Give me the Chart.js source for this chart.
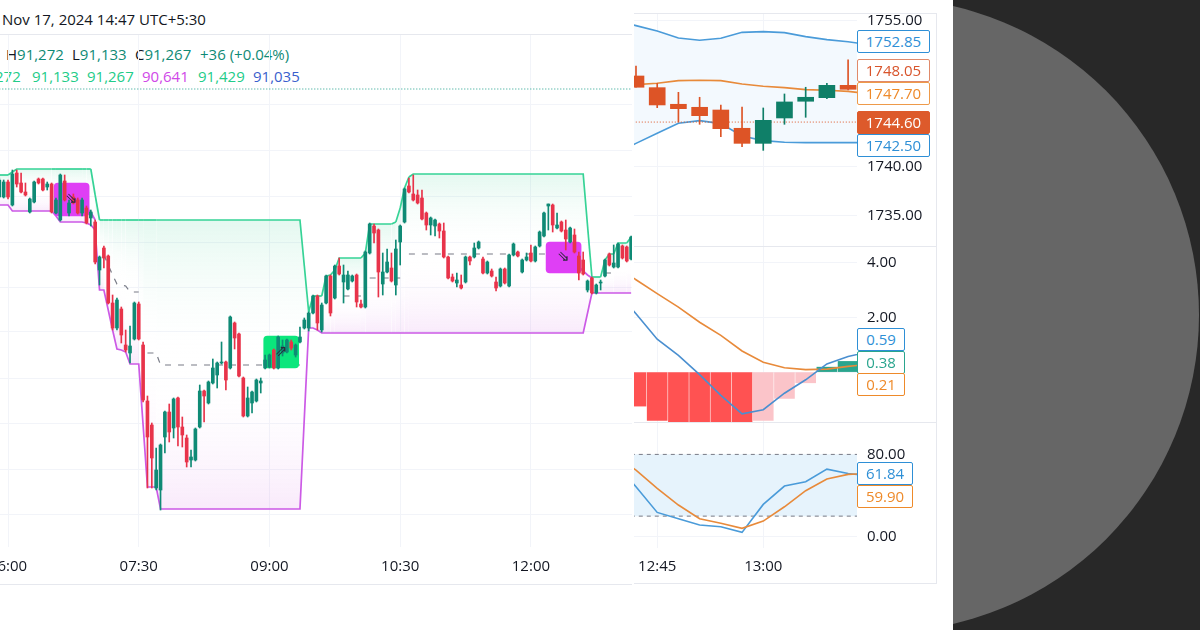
<!DOCTYPE html>
<html>
<head>
<meta charset="utf-8">
<script src="https://cdn.jsdelivr.net/npm/chart.js@4/dist/chart.umd.min.js"></script>
<style>
  html, body { margin: 0; padding: 0; background: #fff; }
  body { width: 1200px; height: 630px; overflow: hidden; position: relative; font-family: "Open Sans", sans-serif; color: #131722; }
  canvas { position: absolute; display: block; }
  .rule { position: absolute; background: #e6e8ee; }
  .txt { position: absolute; white-space: nowrap; font-size: 15px; line-height: 20px; }
  .tag { position: absolute; left: 857px; box-sizing: border-box; height: 23px; line-height: 21px; background: #fff; border: 1px solid; border-radius: 2px; text-align: center; font-size: 15px; z-index: 2; }
  #side { position: absolute; left: 953px; top: 0; width: 247px; height: 630px; background: #282828; overflow: hidden; }
  #disc { position: absolute; left: -388px; top: -2px; width: 634px; height: 634px; border-radius: 50%; background: #666; }
</style>
</head>
<body>
<div class="txt" style="left:2px;top:9px">Nov 17, 2024 14:47 UTC+5:30</div>
<div class="rule" style="left:0;top:34px;width:632px;height:1px"></div>
<div class="txt" style="left:6px;top:44px">H<span style="color:#0f8a75">91,272</span></div>
<div class="txt" style="left:72px;top:44px">L<span style="color:#0f8a75">91,133</span></div>
<div class="txt" style="left:135px;top:44px">C<span style="color:#0f8a75">91,267</span></div>
<div class="txt" style="left:200px;top:44px;color:#0f8a75">+36 (+0.04%)</div>
<div class="txt" style="left:-26px;top:66px;color:#22cc88">91,272</div>
<div class="txt" style="left:32px;top:66px;color:#22cc88">91,133</div>
<div class="txt" style="left:87px;top:66px;color:#22cc88">91,267</div>
<div class="txt" style="left:142px;top:66px;color:#d048e8">90,641</div>
<div class="txt" style="left:198px;top:66px;color:#22cc88">91,429</div>
<div class="txt" style="left:253px;top:66px;color:#3a5fcd">91,035</div>
<div class="rule" style="left:0;top:584px;width:632px;height:1px"></div>

<canvas id="mainChart" width="632" height="549" style="left:0;top:35px"></canvas>
<canvas id="priceChart" width="302" height="233" style="left:634px;top:13px"></canvas>
<canvas id="macdChart" width="302" height="176" style="left:634px;top:246px"></canvas>
<canvas id="stochChart" width="302" height="161" style="left:634px;top:422px"></canvas>

<div class="rule" style="left:634px;top:13px;width:303px;height:1px"></div>
<div class="rule" style="left:634px;top:246px;width:303px;height:1px"></div>
<div class="rule" style="left:634px;top:422px;width:303px;height:1px"></div>
<div class="rule" style="left:634px;top:583px;width:303px;height:1px"></div>
<div class="rule" style="left:936px;top:13px;width:1px;height:571px"></div>

<div class="tag" style="top:30px;width:73px;color:#2e8fd6;border-color:#2e8fd6">1752.85</div>
<div class="tag" style="top:59px;width:73px;color:#d8542b;border-color:#e08a6a">1748.05</div>
<div class="tag" style="top:82px;width:73px;color:#ee8a2a;border-color:#ee9a4a">1747.70</div>
<div class="tag" style="top:111px;width:73px;color:#fff;background:#dd5a2b;border-color:#dd5a2b;font-weight:500">1744.60</div>
<div class="tag" style="top:134px;width:73px;color:#2e8fd6;border-color:#2e8fd6">1742.50</div>
<div class="tag" style="top:328px;width:48px;color:#2e8fd6;border-color:#2e8fd6">0.59</div>
<div class="tag" style="top:351px;width:48px;color:#2aa58e;border-color:#2aa58e">0.38</div>
<div class="tag" style="top:373px;width:48px;color:#ee8a2a;border-color:#ee8a2a">0.21</div>
<div class="tag" style="top:462px;width:56px;color:#2e8fd6;border-color:#2e8fd6">61.84</div>
<div class="tag" style="top:485px;width:56px;color:#ee8a2a;border-color:#ee8a2a">59.90</div>

<div id="side"><div id="disc"></div></div>

<script>
// left chart, 3 min candles (no price axis visible)
const open = [
  91780,91780,91930,91700,92020,91920,91830,91630,91730,91960,
  91960,91880,91910,91620,91550,91940,91620,91780,91750,91620,
  91670,91570,91530,91050,91270,91190,90720,90470,90660,90300,
  90220,90360,90710,90300,89740,89500,88870,88850,89380,89630,
  89470,89770,89480,89370,89150,89150,89480,89840,89720,89920,
  90000,90120,90130,90070,90520,90410,89970,89590,89720,89740,
  89920,90070,90080,90250,90070,90220,90230,90330,90200,90330,
  90470,90470,90620,90790,90450,90720,90990,90770,91090,90930,
  90860,90940,91000,90710,90680,91220,91490,91450,90910,91030,
  91070,90900,91330,91530,91890,91810,91800,91770,91620,91500,
  91490,91510,91440,91180,90980,90920,90900,90930,91180,91180,
  91270,91160,91020,91040,90930,90890,91060,90890,91200,91230,
  91030,91150,91220,91140,91290,91390,91690,91700,91470,91530,
  91450,91330,91400,91190,91150,90850,90970,90820,90920,90990,
  91210,91080,91080,91290,91280,91160
];
const close = [
  91950,91930,91780,92010,91910,91830,91800,91760,91930,91920,
  91850,91910,91630,91750,92000,91750,91720,91720,91620,91750,
  91520,91630,91130,91180,91170,90720,90470,90750,90400,90250,
  90290,90720,90360,89750,89380,89170,89050,89300,89630,89430,
  89760,89480,89400,89130,89180,89460,89840,89790,89930,90070,
  90120,90130,89950,90580,90370,89990,89590,89770,89830,89950,
  89940,90150,90200,90070,90380,90290,90350,90270,90300,90380,
  90550,90620,90790,90520,90700,90990,90620,91090,91010,91000,
  91000,90990,90730,90680,91230,91510,91420,91030,91030,91130,
  90940,91260,91490,91860,91830,91750,91720,91560,91500,91570,
  91550,91440,91180,90970,90940,90950,90870,91180,91140,91270,
  91330,91020,91130,90990,90870,91060,90920,91200,91310,91190,
  91150,91180,91140,91280,91430,91620,91710,91500,91500,91440,
  91360,91470,91230,91020,91010,90940,90820,90900,90930,91150,
  91100,91120,91310,91170,91140,91380
];
const high = [
  91970,91950,91950,92050,92050,92020,91920,91770,91940,91970,
  91970,91930,91920,91770,92010,92000,91750,91810,91770,91770,
  91690,91650,91550,91190,91290,91200,90800,90770,90680,90450,
  90490,90730,90730,90330,89790,89520,89270,89310,89640,89710,
  89770,89780,89580,89400,89250,89470,89900,89850,89940,90160,
  90130,90330,90140,90590,90530,90420,89980,89880,89840,89960,
  89970,90200,90210,90260,90390,90350,90360,90350,90310,90480,
  90570,90630,90800,90800,90720,91000,91000,91100,91170,91100,
  91040,91000,91010,90750,91240,91520,91510,91460,91220,91260,
  91220,91350,91500,91870,91970,92000,91850,91850,91630,91580,
  91560,91520,91520,91190,91010,91020,91000,91190,91190,91320,
  91340,91180,91140,91060,90980,91070,91070,91210,91320,91240,
  91160,91220,91300,91290,91440,91630,91710,91710,91620,91540,
  91550,91480,91460,91230,91230,90950,90980,90910,90950,91160,
  91220,91300,91320,91300,91290,91390
];
const low = [
  91770,91770,91760,91690,91880,91820,91790,91620,91720,91910,
  91840,91850,91620,91610,91540,91740,91590,91710,91610,91590,
  91510,91490,91110,90900,91070,90710,90450,90450,90320,90230,
  90120,90350,90350,89730,88870,88870,88850,88650,89220,89330,
  89370,89290,89280,89080,89080,89140,89470,89530,89710,89910,
  89870,90110,89850,90060,90260,89980,89580,89580,89620,89730,
  89820,90060,90070,90060,90060,90190,90220,90250,90180,90320,
  90460,90440,90610,90450,90430,90710,90590,90760,91000,90720,
  90850,90930,90680,90670,90670,91210,91320,90780,90800,91020,
  90930,90800,91100,91520,91820,91740,91710,91550,91450,91400,
  91390,91370,91170,90960,90930,90880,90860,90920,91100,91170,
  91260,91010,91010,90980,90840,90880,90910,90880,91190,91180,
  91020,91140,91130,91130,91280,91380,91450,91430,91460,91430,
  91250,91320,91220,90950,91000,90830,90810,90810,90850,90980,
  91090,91070,91070,91160,91130,91150
];
const upperBand = [
  92000,92000,92000,92030,92060,92060,92060,92060,92060,92060,
  92060,92060,92060,92060,92060,92060,92060,92060,92060,92060,
  92060,92060,91800,91550,91550,91550,91550,91550,91550,91550,
  91550,91550,91550,91550,91550,91550,91550,91550,91550,91550,
  91550,91550,91550,91550,91550,91550,91550,91550,91550,91550,
  91550,91550,91550,91550,91550,91550,91550,91550,91550,91550,
  91550,91550,91550,91550,91550,91550,91550,91550,91550,91550,
  91090,90630,90790,90790,90790,90990,91000,91050,91170,91170,
  91170,91170,91170,91170,91220,91510,91510,91510,91510,91510,
  91510,91530,91670,91870,91980,92010,92010,92010,92010,92010,
  92010,92010,92010,92010,92010,92010,92010,92010,92010,92010,
  92010,92010,92010,92010,92010,92010,92010,92010,92010,92010,
  92010,92010,92010,92010,92010,92010,92010,92010,92010,92010,
  92010,92010,92010,92010,92010,91490,90980,90980,90980,91150,
  91210,91210,91320,91320,91320,91380
];
const lowerBand = [
  91700,91700,91700,91640,91640,91640,91640,91640,91640,91640,
  91640,91640,91640,91590,91530,91530,91530,91530,91530,91530,
  91520,91500,91450,90850,90850,90650,90450,90260,90250,90230,
  90110,90110,90110,89500,88880,88880,88880,88660,88660,88660,
  88660,88660,88660,88660,88660,88660,88660,88660,88660,88660,
  88660,88660,88660,88660,88660,88660,88660,88660,88660,88660,
  88660,88660,88660,88660,88660,88660,88660,88660,88660,88660,
  89570,90470,90470,90450,90420,90420,90420,90420,90420,90420,
  90420,90420,90420,90420,90420,90420,90420,90420,90420,90420,
  90420,90420,90420,90420,90420,90420,90420,90420,90420,90420,
  90420,90420,90420,90420,90420,90420,90420,90420,90420,90420,
  90420,90420,90420,90420,90420,90420,90420,90420,90420,90420,
  90420,90420,90420,90420,90420,90420,90420,90420,90420,90420,
  90420,90420,90420,90420,90420,90620,90820,90820,90820,90820,
  90820,90820,90820,90820,90820,90820
];
// dashed basis only shows on its flat runs, nulls where the picture has none
const midBand = [
  null,null,null,null,null,null,null,null,null,null,
  null,null,null,null,null,null,null,null,null,null,
  null,null,null,null,91200,91100,91000,90910,90900,90890,
  90830,90830,90830,null,90220,90220,90220,90100,90100,90100,
  90100,90100,90100,90100,90100,90100,90100,90100,90100,90100,
  90100,90100,90100,90100,90100,90100,90100,90100,90100,90100,
  90100,90100,90100,90100,90100,90100,90100,90100,90100,90100,
  null,null,null,null,null,null,null,null,null,90790,
  90790,90790,90790,90790,null,90970,90970,90970,90970,90970,
  90970,90970,90970,null,91210,91210,91210,91210,91210,91210,
  91210,91210,91210,91210,91210,91210,91210,91210,91210,91210,
  91210,91210,91210,91210,91210,91210,91210,91210,91210,91210,
  91210,91210,91210,91210,91210,91210,91210,null,null,null,
  null,null,null,null,null,null,null,null,null,91020,
  91020,91020,null,null,null,null
];
// short magenta pieces next to the signal boxes
const stubIdx = [20, 21, 22, null, 133, 135, 136];
const stubVal = [91670, 91630, 91550, null, 91080, 91000, 90970];
const lastLine = 92860;
const signalIdx = [16.6, 129.5, 64.7];
const signalLow = [91590, 91020, 90070];
const signalHigh = [91920, 91330, 90390];
const signalArrow = ['\u21d8', '\u21d8', '\u21d7'];
const signalColor = ['#df3ff5', '#df3ff5', '#0be67c'];
const mainTickIdx = [2, 32, 62, 92, 122];
const mainTickLabels = ['06:00', '07:30', '09:00', '10:30', '12:00'];
const mainGrid = [92700, 92240, 91790, 91330, 90880, 90430, 89970, 89520, 89060, 88610];

// right hand panes
const paneOpen = [1749.34, 1748.14, 1746.43, 1746.12, 1745.84, 1743.96, 1742.41, 1745.02, 1746.74, 1747.11, 1748.38];
const paneClose = [1748.18, 1746.36, 1745.98, 1745.26, 1743.92, 1742.41, 1744.78, 1746.67, 1747.15, 1748.38, 1747.97];
const paneHigh = [1750.37, 1748.59, 1747.66, 1747.15, 1746.36, 1746.15, 1746.05, 1747.49, 1748.18, 1748.59, 1751.0];
const paneLow = [1748.18, 1746.08, 1744.61, 1744.37, 1743.10, 1742.07, 1741.69, 1744.37, 1745.09, 1747.0, 1747.9];
const bbIdx = [-1, 0, 1, 2, 3, 4, 5, 6, 7, 8, 9, 10, 11];
const bbUpper = [1755.1, 1754.52, 1753.97, 1753.25, 1753.01, 1753.22, 1753.83, 1753.90, 1753.80, 1753.39, 1753.08, 1752.87, 1752.56];
const bbBasis = [1748.18, 1748.45, 1748.59, 1748.86, 1748.90, 1748.86, 1748.52, 1748.28, 1748.14, 1747.94, 1747.87, 1747.76, 1747.52];
const bbLower = [1741.39, 1742.41, 1743.44, 1744.47, 1744.75, 1744.44, 1743.17, 1742.69, 1742.52, 1742.48, 1742.48, 1742.48, 1742.48];
const lastPane = 1744.6;
const priceTicks = [1755, 1750, 1745, 1740, 1735];

const histIdx = [0, 1, 2, 3, 4, 5, 6, 7, 8, 9, 10];
const histVals = [-1.24, -1.76, -1.84, -1.84, -1.84, -1.84, -1.76, -0.96, -0.39, 0.18, 0.39];
const macdLine = [3.0, 2.13, 1.20, 0.61, -0.09, -0.85, -1.52, -1.37, -0.77, -0.28, 0.30, 0.57, 0.74];
const signalLine = [3.9, 3.37, 2.86, 2.37, 1.82, 1.34, 0.77, 0.36, 0.16, 0.09, 0.11, 0.21, 0.28];
const macdTicks = [4, 2, 0];

const stochK = [71, 48.6, 23.6, 17.5, 11.3, 9.7, 4.2, 31.4, 49.2, 53.4, 65.7, 61.5, 59.1];
const stochD = [79, 64.8, 47, 30.8, 17.5, 13, 8.1, 15.2, 29.1, 44.7, 56, 60.6, 61.5];
const stochBand = [80, 20];
const stochTicks = [80, 40, 0];
const paneTimeIdx = [1, 6];
const paneTimeLabels = ['12:45', '13:00'];

const FONT = '"Open Sans", sans-serif';
const GRID = '#f2f4f9';
const INK = '#131722';
const UP = '#0f8a75', DOWN = '#e8334a';
const PANE_UP = '#0f7f68', PANE_DOWN = '#dd5426';
const BLUE = '#4a9bd9', ORANGE = '#e88a3a';

const pairs = (xs, ys) => xs.map((x, i) => ({ x: x, y: ys[i] }));
const noLegend = { legend: { display: false }, tooltip: { enabled: false } };

// gradient over the channel, green at the top band, magenta at the bottom band
const gradCache = {};
function channelGradient(c) {
  const chart = c.chart, y = chart.scales.y;
  const a = c.p0DataIndex, b = c.p1DataIndex;
  const top = Math.round(y.getPixelForValue(Math.max(upperBand[a], upperBand[b])));
  const bot = Math.round(y.getPixelForValue(Math.min(lowerBand[a], lowerBand[b])));
  const key = top + '_' + bot;
  if (!gradCache[key]) {
    const g = chart.ctx.createLinearGradient(0, top, 0, bot);
    g.addColorStop(0, 'rgba(46,204,140,0.13)');
    g.addColorStop(0.5, 'rgba(255,255,255,0)');
    g.addColorStop(1, 'rgba(204,85,224,0.12)');
    gradCache[key] = g;
  }
  return gradCache[key];
}

const arrowPlugin = {
  id: 'signalArrows',
  afterDatasetsDraw(chart) {
    const { ctx, scales } = chart;
    ctx.save();
    ctx.font = '15px "DejaVu Sans"';
    ctx.fillStyle = '#2a2a3a';
    ctx.textAlign = 'center';
    ctx.textBaseline = 'middle';
    signalIdx.forEach((v, i) => {
      ctx.fillText(signalArrow[i], scales.x.getPixelForValue(v), scales.y.getPixelForValue((signalLow[i] + signalHigh[i]) / 2));
    });
    ctx.restore();
  }
};

const mainIdx = open.map((_, i) => i);

new Chart(document.getElementById('mainChart'), {
  type: 'bar',
  plugins: [arrowPlugin],
  data: {
    datasets: [
      { type: 'line', data: pairs(mainIdx, upperBand), borderColor: '#36d396', borderWidth: 1.7, pointRadius: 0, tension: 0, fill: '+1', order: 7,
        segment: { backgroundColor: channelGradient } },
      { type: 'line', data: pairs(mainIdx, lowerBand), borderColor: '#cc5ae6', borderWidth: 1.7, pointRadius: 0, tension: 0, order: 6 },
      { type: 'line', data: pairs(mainIdx, midBand), borderColor: '#787b86', borderWidth: 1.2, borderDash: [6, 7], pointRadius: 0, tension: 0, order: 5 },
      { type: 'line', data: pairs(stubIdx, stubVal), borderColor: '#cc5ae6', borderWidth: 1.7, pointRadius: 0, tension: 0, order: 4 },
      { data: signalIdx.map((v, i) => ({ x: v, y: [signalLow[i], signalHigh[i]] })), backgroundColor: signalColor, barThickness: 35, borderRadius: 4, borderSkipped: false, grouped: false, order: 3 },
      { data: mainIdx.map(i => ({ x: i, y: [low[i], high[i]] })), backgroundColor: c => close[c.dataIndex] >= open[c.dataIndex] ? UP : DOWN, barThickness: 1, grouped: false, order: 2 },
      { data: mainIdx.map(i => ({ x: i, y: [open[i], close[i]] })), backgroundColor: c => close[c.dataIndex] >= open[c.dataIndex] ? UP : DOWN, barThickness: 3, borderSkipped: false, grouped: false, order: 1 },
      { type: 'line', data: [{ x: 0, y: lastLine }, { x: 146, y: lastLine }], borderColor: '#1f9e8a', borderWidth: 1, borderDash: [1, 2], pointRadius: 0, order: 0 }
    ]
  },
  options: {
    responsive: false,
    animation: false,
    devicePixelRatio: 1,
    plugins: noLegend,
    layout: { padding: 0 },
    scales: {
      x: {
        type: 'linear', min: 0.16, max: 145.2, offset: false,
        afterBuildTicks: a => { a.ticks = mainTickIdx.map(v => ({ value: v })); },
        afterFit: a => { a.height = 39; a.paddingLeft = 0; a.paddingRight = 0; },
        grid: { offset: false, color: GRID, tickLength: 2, tickColor: GRID },
        border: { display: false },
        ticks: { autoSkip: false, maxRotation: 0, padding: 11, color: INK, font: { family: FONT, size: 15 }, callback: v => mainTickLabels[mainTickIdx.indexOf(v)] }
      },
      y: {
        min: 88300, max: 93400,
        afterBuildTicks: a => { a.ticks = mainGrid.map(v => ({ value: v })); },
        afterFit: a => { a.width = 0; a.paddingTop = 0; a.paddingBottom = 0; },
        grid: { color: GRID, drawTicks: false },
        border: { display: false },
        ticks: { display: false }
      }
    }
  }
});

function paneOptions(yMin, yMax, yTicks, xHeight, timeLabels) {
  return {
    responsive: false,
    animation: false,
    devicePixelRatio: 1,
    plugins: noLegend,
    layout: { padding: 0 },
    scales: {
      x: {
        type: 'linear', min: -0.094, max: 10.42, offset: false,
        afterBuildTicks: a => { a.ticks = paneTimeIdx.map(v => ({ value: v })); },
        afterFit: a => { a.height = xHeight; a.paddingLeft = 0; a.paddingRight = 0; },
        grid: { offset: false, color: GRID, tickLength: timeLabels ? 2 : 0, tickColor: GRID },
        border: { display: false },
        ticks: { display: timeLabels, autoSkip: false, maxRotation: 0, padding: 10, color: INK, font: { family: FONT, size: 15 }, callback: v => paneTimeLabels[paneTimeIdx.indexOf(v)] }
      },
      y: {
        position: 'right', min: yMin, max: yMax,
        afterBuildTicks: a => { a.ticks = yTicks.map(v => ({ value: v })); },
        afterFit: a => { a.width = 79; a.paddingTop = 0; a.paddingBottom = 0; },
        grid: { color: GRID, drawTicks: false },
        border: { display: false },
        ticks: { crossAlign: 'near', padding: 10, color: INK, font: { family: FONT, size: 15 }, callback: v => v.toFixed(2) }
      }
    }
  };
}

new Chart(document.getElementById('priceChart'), {
  type: 'bar',
  data: {
    datasets: [
      { type: 'line', data: pairs(bbIdx, bbUpper), borderColor: BLUE, borderWidth: 1.6, pointRadius: 0, fill: '+2', backgroundColor: '#f3f9fe', order: 6 },
      { type: 'line', data: pairs(bbIdx, bbBasis), borderColor: ORANGE, borderWidth: 1.6, pointRadius: 0, order: 4 },
      { type: 'line', data: pairs(bbIdx, bbLower), borderColor: BLUE, borderWidth: 1.6, pointRadius: 0, order: 5 },
      { type: 'line', data: [{ x: -1, y: lastPane }, { x: 11, y: lastPane }], borderColor: '#dd5426', borderWidth: 1, borderDash: [1, 2], pointRadius: 0, order: 3 },
      { data: paneOpen.map((_, i) => ({ x: i, y: [paneLow[i], paneHigh[i]] })), backgroundColor: c => paneClose[c.dataIndex] >= paneOpen[c.dataIndex] ? PANE_UP : PANE_DOWN, barThickness: 1, grouped: false, order: 2 },
      { data: paneOpen.map((_, i) => ({ x: i, y: [paneOpen[i], paneClose[i]] })), backgroundColor: c => paneClose[c.dataIndex] >= paneOpen[c.dataIndex] ? PANE_UP : PANE_DOWN, barThickness: 16, borderSkipped: false, grouped: false, order: 1 }
    ]
  },
  options: paneOptions(1731.85, 1755.82, priceTicks, 0, false)
});

new Chart(document.getElementById('macdChart'), {
  type: 'bar',
  data: {
    datasets: [
      { data: pairs(histIdx, histVals), backgroundColor: c => {
          const v = histVals[c.dataIndex], prev = histVals[c.dataIndex - 1];
          if (v >= 0) return '#2aa58e';
          return prev === undefined || v <= prev ? '#ff5252' : '#fbc4c9';
        }, barThickness: 20, grouped: false, order: 3 },
      { type: 'line', data: pairs(bbIdx, macdLine), borderColor: '#4a8fd0', borderWidth: 1.6, pointRadius: 0, order: 1 },
      { type: 'line', data: pairs(bbIdx, signalLine), borderColor: ORANGE, borderWidth: 1.6, pointRadius: 0, order: 2 }
    ]
  },
  options: paneOptions(-1.82, 4.6, macdTicks, 0, false)
});

new Chart(document.getElementById('stochChart'), {
  type: 'line',
  data: {
    datasets: [
      { data: [{ x: -1, y: stochBand[0] }, { x: 11, y: stochBand[0] }], borderColor: '#787b86', borderWidth: 1, borderDash: [4, 4], pointRadius: 0, fill: '+1', backgroundColor: '#e6f3fc', order: 4 },
      { data: [{ x: -1, y: stochBand[1] }, { x: 11, y: stochBand[1] }], borderColor: '#787b86', borderWidth: 1, borderDash: [4, 4], pointRadius: 0, order: 3 },
      { data: pairs(bbIdx, stochK), borderColor: BLUE, borderWidth: 1.6, pointRadius: 0, order: 2 },
      { data: pairs(bbIdx, stochD), borderColor: ORANGE, borderWidth: 1.6, pointRadius: 0, order: 1 }
    ]
  },
  options: paneOptions(-9.04, 111.5, stochTicks, 37, true)
});
</script>
</body>
</html>
